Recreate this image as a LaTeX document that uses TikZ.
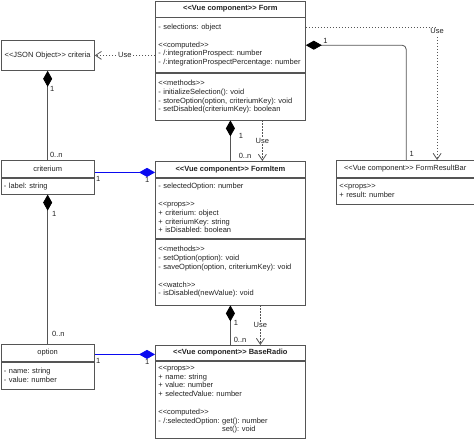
\documentclass[tikz,border=0pt]{standalone}
\usepackage{fontspec}
\setmainfont{Liberation Sans}
\usepackage{tikz}
\usetikzlibrary{arrows.meta,positioning}
\definecolor{linegray}{HTML}{555555}
\definecolor{textgray}{HTML}{222222}
\definecolor{linkblue}{HTML}{0A0AF0}
\newcommand{\umlfont}{\fontsize{7.5}{8.8}\selectfont}
\newcommand{\stereo}[1]{<\kern0pt<#1>\kern0pt>}
\frenchspacing
\tikzstyle{classhead}=[draw=linegray, line width=0.8pt, fill=white, anchor=north west, inner sep=0pt, font=\umlfont, text=textgray]
\tikzstyle{classbody}=[draw=linegray, line width=0.8pt, fill=white, anchor=north west, align=left, inner xsep=3pt, inner ysep=0pt, font=\umlfont, text=textgray]
\tikzstyle{compose}=[draw=linegray, line width=0.8pt, arrows={Diamond[length=16pt,width=9pt,fill=black,color=black]-}]
\tikzstyle{composeblue}=[draw=linkblue, line width=0.8pt, arrows={Diamond[length=16pt,width=9pt,fill=linkblue]-}]
\tikzstyle{use}=[draw=linegray, line width=0.8pt, dash pattern=on 1.5pt off 1.5pt, arrows={-Straight Barb[length=6pt,width=8pt]}]
\tikzstyle{mult}=[font=\umlfont, text=textgray, inner sep=1pt]
\tikzstyle{uselabel}=[font=\umlfont, text=textgray, fill=white, inner sep=1pt]

\begin{document}
\begin{tikzpicture}[x=1pt,y=-1pt]
\useasboundingbox (0,0) rectangle (474,440);

% classes
\node[classhead, minimum width=150pt, minimum height=16pt, font=\umlfont\bfseries] (formhead) at (155,0.5) {\stereo{Vue component} Form};
\node[classbody, text width=144pt, minimum height=55pt] (formfields) at (formhead.south west) {- selections: object\\[8.8pt]\stereo{computed}\\- /:integrationProspect: number\\- /:integrationProspectPercentage: number};
\node[classbody, text width=144pt, minimum height=46.5pt] (formmethods) at (formfields.south west) {\stereo{methods}\\- initializeSelection(): void\\- storeOption(option, criteriumKey): void\\- setDisabled(criteriumKey): boolean};

\node[classhead, minimum width=93.5pt, minimum height=30pt] (criteria) at (0.5,40) {\stereo{JSON Object} criteria};

\node[classhead, minimum width=93.5pt, minimum height=17pt] (criteriumhead) at (0.5,160) {criterium};
\node[classbody, text width=87.5pt, minimum height=16pt] (criteriumbody) at (criteriumhead.south west) {- label: string};

\node[classhead, minimum width=93.5pt, minimum height=17pt] (optionhead) at (0.5,344) {option};
\node[classbody, text width=87.5pt, minimum height=27pt] (optionbody) at (optionhead.south west) {- name: string\\- value: number};

\node[classhead, minimum width=150pt, minimum height=16pt, font=\umlfont\bfseries] (formitemhead) at (155,161) {\stereo{Vue component} FormItem};
\node[classbody, text width=144pt, minimum height=60pt] (formitemprops) at (formitemhead.south west) {- selectedOption: number\\[8.8pt]\stereo{props}\\+ criterium: object\\+ criteriumKey: string\\+ isDisabled: boolean};
\node[classbody, text width=144pt, minimum height=66pt] (formitemmethods) at (formitemprops.south west) {\stereo{methods}\\- setOption(option): void\\- saveOption(option, criteriumKey): void\\[8.8pt]\stereo{watch}\\- isDisabled(newValue): void};

\node[classhead, minimum width=150pt, minimum height=15pt, font=\umlfont\bfseries] (baseradiohead) at (155,345) {\stereo{Vue component} BaseRadio};
\node[classbody, text width=144pt, minimum height=77pt] (baseradiobody) at (baseradiohead.south west) {\stereo{props}\\+ name: string\\+ value: number\\+ selectedValue: number\\[8.8pt]\stereo{computed}\\- /:selectedOption: get(): number\\\phantom{- /:selectedOption: }set(): void};

\node[classhead, minimum width=137.5pt, minimum height=17pt] (resulthead) at (336,160) {\stereo{Vue component} FormResultBar};
\node[classbody, text width=131.5pt, minimum height=26pt] (resultbody) at (resulthead.south west) {\stereo{props}\\+ result: number};

% links
\draw[use] (criteria.east -| formfields.west) -- node[uselabel] {Use} (criteria.east);
\draw[compose] (criteria.south) -- (criteriumhead.north)
  node[mult, pos=0.2, anchor=west, xshift=1pt] {1}
  node[mult, pos=0.94, anchor=west, xshift=1pt] {0..n};
\draw[compose] (criteriumbody.south) -- (optionhead.north)
  node[mult, pos=0.13, anchor=west, xshift=3pt] {1}
  node[mult, pos=0.93, anchor=west, xshift=3pt] {0..n};

\coordinate (critlink) at ([yshift=-3.5pt]criteriumhead.east);
\draw[composeblue] (formitemhead.west |- critlink) -- (critlink)
  node[mult, pos=0.13, anchor=north, yshift=-4pt] {1}
  node[mult, at end, anchor=north west, yshift=-3pt] {1};
\coordinate (optlink) at ([yshift=-1.5pt]optionhead.east);
\draw[composeblue] (baseradiohead.west |- optlink) -- (optlink)
  node[mult, pos=0.13, anchor=north, yshift=-4pt] {1}
  node[mult, at end, anchor=north west, yshift=-3pt] {1};

\draw[compose] (formmethods.south) -- (formitemhead.north)
  node[mult, pos=0.37, anchor=west, xshift=7pt] {1}
  node[mult, pos=0.88, anchor=west, xshift=7pt] {0..n};
\draw[use] ([xshift=32pt]formmethods.south) -- node[uselabel] {Use} ([xshift=32pt]formitemhead.north);

\draw[compose] (formitemmethods.south) -- (baseradiohead.north)
  node[mult, pos=0.45, anchor=west, xshift=2pt] {1}
  node[mult, pos=0.88, anchor=west, xshift=2pt] {0..n};
\draw[use] ([xshift=30pt]formitemmethods.south) -- node[uselabel] {Use} ([xshift=30pt]baseradiohead.north);

\draw[compose, rounded corners=4pt] (formfields.east) -| ([xshift=1pt]resulthead.north)
  node[mult, pos=0.08, anchor=south west] {1}
  node[mult, pos=0.975, anchor=west, xshift=2pt] {1};
\draw[use] ([yshift=18pt]formfields.east) -| ([xshift=32pt]resulthead.north)
  node[uselabel, pos=0.515] {Use};
\end{tikzpicture}
\end{document}
